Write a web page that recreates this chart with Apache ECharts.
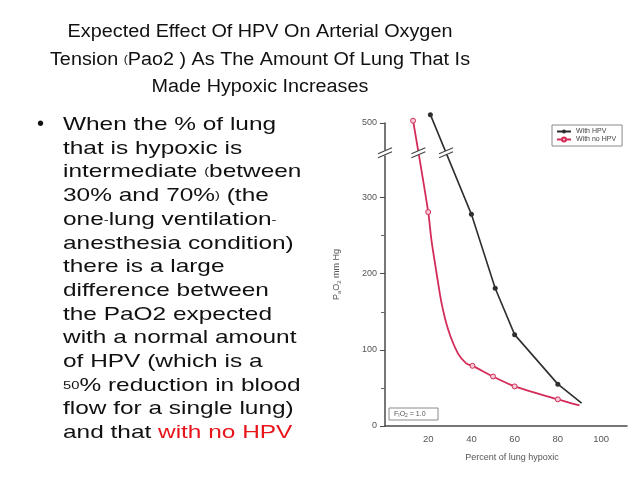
<!DOCTYPE html>
<html>
<head>
<meta charset="utf-8">
<script src="https://cdn.jsdelivr.net/npm/echarts@6.0.0/dist/echarts.min.js"></script>
<style>
html, body { margin: 0; padding: 0; background: #fff; }
#chart { width: 638px; height: 478px; }
</style>
</head>
<body>
<div id="chart"></div>
<script>
// values
var hpvX = [21, 40, 51, 60, 80, 91];
var hpvY = [511, 278, 181, 120, 55, 30];
var hpvMarked = [true, true, true, true, true, false];

var noHpvX = [13, 20, 21.5, 23.9, 26.2, 29.3, 33.8, 37.7, 40.5, 50, 60, 80, 90];
var noHpvY = [503, 281, 244, 200, 161, 126, 95, 82, 79, 65, 52, 35, 27];
var noHpvMarked = [true, true, false, false, false, false, false, false, true, true, true, true, false];

var yTicks = [0, 100, 200, 300, 500];
var yMinorTicks = [50, 150, 250];
var xTicks = [20, 40, 60, 80, 100];
var yBreak = [355, 465];

var titleLines = [
  'Expected Effect Of HPV On Arterial Oxygen',
  'Tension {s|(}Pao2 ) As The Amount Of Lung That Is',
  'Made Hypoxic Increases'
];
var bulletLines = [
  'When the % of lung',
  'that is hypoxic is',
  'intermediate {s|(}between',
  '30% and 70%{s|)} (the',
  'one{s|-}lung ventilation{s|-}',
  'anesthesia condition)',
  'there is a large',
  'difference between',
  'the PaO2 expected',
  'with a normal amount',
  'of HPV (which is a',
  '{s|50}% reduction in blood',
  'flow for a single lung)',
  'and that {r|with no HPV}'
];

var BLACK = '#2e2e2e';
var RED = '#d42c58';
var AXIS = '#4a4a4a';
var FONT = 'Liberation Sans, Arial, sans-serif';

function buildData(xs, ys, marked) {
  var out = [];
  for (var i = 0; i < xs.length; i++) {
    var item = { value: [xs[i], ys[i]] };
    if (!marked[i]) item.symbol = 'none';
    out.push(item);
  }
  return out;
}

var chart = echarts.init(document.getElementById('chart'));

var yBase = {
  type: 'value',
  min: 0,
  max: 500,
  position: 'left',
  breaks: [{ start: yBreak[0], end: yBreak[1], gap: 8 }],
  breakArea: { show: false },
  splitLine: { show: false }
};

var option = {
  animation: false,
  backgroundColor: '#fff',
  textStyle: { fontFamily: FONT },
  grid: { left: 385, right: 11, top: 123, bottom: 52 },
  legend: {
    orient: 'vertical',
    left: 552,
    top: 125,
    padding: [3, 6, 3, 4],
    itemGap: 1,
    itemWidth: 14,
    itemHeight: 5,
    borderColor: '#8a8a8a',
    borderWidth: 1,
    textStyle: { fontSize: 7, color: '#444', fontFamily: FONT },
    data: ['With HPV', 'With no HPV']
  },
  xAxis: {
    type: 'value',
    min: 0,
    max: 112,
    splitLine: { show: false },
    axisLine: { lineStyle: { color: AXIS, width: 1.5 } },
    axisTick: { show: false },
    axisLabel: { color: '#555', fontSize: 9.5, margin: 8, customValues: xTicks },
    name: 'Percent of lung hypoxic',
    nameLocation: 'middle',
    nameGap: 27,
    nameTextStyle: { color: '#555', fontSize: 9, padding: [0, 0, 0, 12] }
  },
  yAxis: [
    Object.assign({}, yBase, {
      axisLine: { show: true, lineStyle: { color: AXIS, width: 1.5 } },
      axisTick: { show: true, length: 5, customValues: yTicks, lineStyle: { color: AXIS } },
      axisLabel: { color: '#555', fontSize: 9, margin: 8, customValues: yTicks },
      name: 'P{sub|a}O{sub|2} mm Hg',
      nameLocation: 'middle',
      nameGap: 43,
      nameTextStyle: {
        color: '#555',
        fontSize: 9,
        rich: { sub: { fontSize: 6, color: '#555', padding: [4, 0, 0, 0] } }
      }
    }),
    Object.assign({}, yBase, {
      axisLine: { show: false },
      axisTick: { show: true, length: 4, customValues: yMinorTicks, lineStyle: { color: '#666' } },
      axisLabel: { show: false }
    })
  ],
  series: [
    {
      name: 'With HPV',
      type: 'line',
      clip: false,
      data: buildData(hpvX, hpvY, hpvMarked),
      symbol: 'circle',
      symbolSize: 5,
      lineStyle: { color: BLACK, width: 1.6 },
      itemStyle: { color: BLACK }
    },
    {
      name: 'With no HPV',
      type: 'line',
      clip: false,
      smooth: 0.3,
      data: buildData(noHpvX, noHpvY, noHpvMarked),
      symbol: 'circle',
      symbolSize: 5,
      lineStyle: { color: RED, width: 1.8 },
      itemStyle: { color: '#f6c9d4', borderColor: RED, borderWidth: 1 }
    }
  ]
};

chart.setOption(option);

// break marks (double slashes) on the axis and on both lines, placed through the chart's scales
function crossX(xs, ys, py) {
  for (var i = 0; i < xs.length - 1; i++) {
    var a = chart.convertToPixel({ gridIndex: 0 }, [xs[i], ys[i]]);
    var b = chart.convertToPixel({ gridIndex: 0 }, [xs[i + 1], ys[i + 1]]);
    if ((a[1] - py) * (b[1] - py) <= 0) {
      var t = (py - a[1]) / (b[1] - a[1]);
      return a[0] + t * (b[0] - a[0]);
    }
  }
  return null;
}

function slashPair(cx, cy, color) {
  var dx = 7, dy = 3, off = 2;
  return [
    {
      type: 'polygon',
      shape: { points: [[cx - dx, cy + dy - off], [cx + dx, cy - dy - off], [cx + dx, cy - dy + off], [cx - dx, cy + dy + off]] },
      style: { fill: '#fff' },
      z: 100
    },
    {
      type: 'line',
      shape: { x1: cx - dx, y1: cy + dy - off, x2: cx + dx, y2: cy - dy - off },
      style: { stroke: color, lineWidth: 1.2 },
      z: 101
    },
    {
      type: 'line',
      shape: { x1: cx - dx, y1: cy + dy + off, x2: cx + dx, y2: cy - dy + off },
      style: { stroke: color, lineWidth: 1.2 },
      z: 101
    }
  ];
}

var lo = chart.convertToPixel({ gridIndex: 0 }, [0, yBreak[0]]);
var hi = chart.convertToPixel({ gridIndex: 0 }, [0, yBreak[1]]);
var sy = (lo[1] + hi[1]) / 2;
var marks = slashPair(lo[0], sy, '#444');
var rx = crossX(noHpvX, noHpvY, sy);
if (rx !== null) marks = marks.concat(slashPair(rx, sy, '#444'));
var bx = crossX(hpvX, hpvY, sy);
if (bx !== null) marks = marks.concat(slashPair(bx, sy, '#444'));

var slideText = [
  {
    type: 'text',
    x: 260,
    y: 18,
    scaleX: 1.1,
    style: {
      text: titleLines.join('\n'),
      align: 'center',
      verticalAlign: 'top',
      fill: '#111',
      fontFamily: FONT,
      fontSize: 18,
      lineHeight: 27.8,
      rich: { s: { fontSize: 11, fontFamily: FONT, lineHeight: 27.8, fill: '#111' } }
    }
  },
  {
    type: 'text',
    x: 37,
    y: 113,
    style: { text: '\u2022', fill: '#111', fontFamily: FONT, fontSize: 20, lineHeight: 23.7, verticalAlign: 'top' }
  },
  {
    type: 'text',
    x: 63,
    y: 113,
    scaleX: 1.285,
    style: {
      text: bulletLines.join('\n'),
      align: 'left',
      verticalAlign: 'top',
      fill: '#111',
      fontFamily: FONT,
      fontSize: 19,
      lineHeight: 23.7,
      rich: {
        s: { fontSize: 11.5, fontFamily: FONT, lineHeight: 23.7, fill: '#111' },
        r: { fontSize: 19, fontFamily: FONT, lineHeight: 23.7, fill: '#e8141b' }
      }
    }
  },
  {
    type: 'group',
    x: 389,
    y: 408,
    children: [
      { type: 'rect', shape: { x: 0, y: 0, width: 49, height: 12 }, style: { fill: '#fff', stroke: '#8a8a8a', lineWidth: 1 } },
      {
        type: 'text',
        x: 5,
        y: 6,
        style: {
          text: 'F{s|I}O{s|2} = 1.0',
          fill: '#555',
          fontFamily: FONT,
          fontSize: 7,
          verticalAlign: 'middle',
          rich: { s: { fontSize: 5, fontFamily: FONT, fill: '#555', padding: [3, 0, 0, 0] } }
        }
      }
    ]
  }
];

chart.setOption({ graphic: slideText.concat(marks) });
</script>
</body>
</html>
